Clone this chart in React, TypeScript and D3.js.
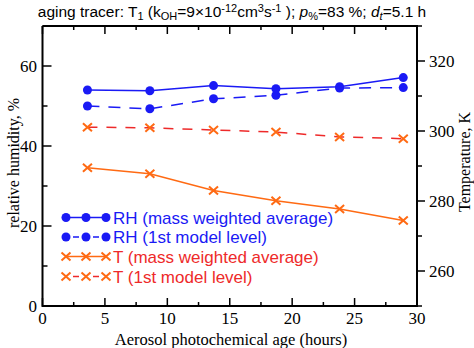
import React from "react";
import * as d3 from "d3";

const ages = [3.6, 8.6, 13.7, 18.7, 23.8, 28.9];
const rhMass = [54.0, 53.8, 55.1, 54.3, 54.8, 57.1];
const rh1st = [50.0, 49.3, 51.8, 52.7, 54.5, 54.6];
const tMass = [289.5, 287.8, 283.0, 280.1, 277.7, 274.4];
const t1st = [301.1, 300.9, 300.3, 299.7, 298.3, 297.8];
const xTicks = [0, 5, 10, 15, 20, 25, 30];
const rhTicks = [0, 20, 40, 60];
const tTicks = [260, 280, 300, 320];
const legendLabels = [
  "RH (mass weighted average)",
  "RH (1st model level)",
  "T (mass weighted average)",
  "T (1st model level)",
];

const BLUE = "#1a1af5";
const ORANGE = "#ff6a13";
const RED = "#ee2a2a";

const W = 474, H = 348;
const L = 42.5, R = 417, T = 26, B = 306;

export default function App() {
  const x = d3.scaleLinear().domain([0, 30]).range([L, R]);
  const yRH = d3.scaleLinear().domain([0, 70]).range([B, T]);
  const yT = d3.scaleLinear().domain([250, 330]).range([B, T]);
  const lineRH = d3.line<number>().x((_, i) => x(ages[i])).y((d) => yRH(d));
  const lineT = d3.line<number>().x((_, i) => x(ages[i])).y((d) => yT(d));

  const serif = "'Liberation Serif', 'Times New Roman', serif";
  const sans = "'Liberation Sans', Arial, sans-serif";

  const xMinor = d3.range(0, 30.01, 2.5);
  const rhMinor = d3.range(0, 70.01, 10);
  const tMinor = d3.range(250, 330.01, 10);

  const cross = (cx: number, cy: number, color: string, key: string | number) => (
    <path key={key} d={`M${cx - 4.5},${cy - 4}L${cx + 4.5},${cy + 4}M${cx - 4.5},${cy + 4}L${cx + 4.5},${cy - 4}`} stroke={color} strokeWidth={2} fill="none" />
  );

  const legY = [217.5, 237, 256.5, 276.5];
  const legX = [66, 86, 106];

  return (
    <svg width={W} height={H} style={{ position: "absolute", left: 0, top: 0 }}>
      <rect width={W} height={H} fill="white" />
      {/* title */}
      <text x={232} y={17} textAnchor="middle" fontFamily={sans} fontSize={15.5} fill="#000">
        aging tracer: T<tspan fontSize={11} dy={3}>1</tspan>
        <tspan dy={-3}> (k</tspan>
        <tspan fontSize={11} dy={3}>OH</tspan>
        <tspan dy={-3}>=9×10</tspan>
        <tspan fontSize={11} dy={-5}>-12</tspan>
        <tspan dy={5}>cm</tspan>
        <tspan fontSize={11} dy={-5}>3</tspan>
        <tspan dy={5}>s</tspan>
        <tspan fontSize={11} dy={-5}>-1</tspan>
        <tspan dy={5}> ); </tspan>
        <tspan fontStyle="italic">p</tspan>
        <tspan fontSize={11} dy={3}>%</tspan>
        <tspan dy={-3}>=83 %; </tspan>
        <tspan fontStyle="italic">d</tspan>
        <tspan fontSize={11} fontStyle="italic" dy={3}>t</tspan>
        <tspan dy={-3}>=5.1 h</tspan>
      </text>

      {/* frame */}
      <path d={`M${L},${T}V${B}H${R}V${T}H${L}`} fill="none" stroke="#000" strokeWidth={2} />

      {/* x ticks bottom & top */}
      {xMinor.map((v, i) => {
        const major = Math.abs(v % 5) < 1e-6;
        const len = major ? 8 : 4;
        return (
          <g key={"xt" + i}>
            <line x1={x(v)} x2={x(v)} y1={B} y2={B - len} stroke="#000" strokeWidth={1.5} />
            <line x1={x(v)} x2={x(v)} y1={T} y2={T + len} stroke="#000" strokeWidth={1.5} />
          </g>
        );
      })}
      {xTicks.map((v) => (
        <text key={"xl" + v} x={x(v)} y={324} textAnchor="middle" fontFamily={serif} fontSize={17}>{v}</text>
      ))}

      {/* left ticks */}
      {rhMinor.map((v, i) => {
        const major = v % 20 === 0;
        return <line key={"lt" + i} x1={L} x2={L + (major ? 9 : 5)} y1={yRH(v)} y2={yRH(v)} stroke="#000" strokeWidth={1.5} />;
      })}
      {rhTicks.map((v) => (
        <text key={"ll" + v} x={37} y={yRH(v) + 6} textAnchor="end" fontFamily={serif} fontSize={17}>{v}</text>
      ))}

      {/* right ticks */}
      {tMinor.map((v, i) => {
        const major = v % 20 === 0;
        return <line key={"rt" + i} x1={R} x2={R + (major ? 8 : 5)} y1={yT(v)} y2={yT(v)} stroke="#000" strokeWidth={1.5} />;
      })}
      {tTicks.map((v) => (
        <text key={"rl" + v} x={429} y={yT(v) + 6} textAnchor="start" fontFamily={serif} fontSize={17}>{v}</text>
      ))}

      {/* axis labels */}
      <text x={231} y={345} textAnchor="middle" fontFamily={serif} fontSize={16.5}>Aerosol photochemical age (hours)</text>
      <text transform={`translate(19,${163}) rotate(-90)`} textAnchor="middle" fontFamily={serif} fontSize={16}>relative humidity, %</text>
      <text transform={`translate(470,${162}) rotate(-90)`} textAnchor="middle" fontFamily={serif} fontSize={16}>Temperature, K</text>

      {/* series */}
      <path d={lineT(t1st) || ""} fill="none" stroke={RED} strokeWidth={1.5} strokeDasharray="10,9" />
      {t1st.map((d, i) => cross(x(ages[i]), yT(d), ORANGE, "c1" + i))}
      <path d={lineT(tMass) || ""} fill="none" stroke={ORANGE} strokeWidth={1.5} />
      {tMass.map((d, i) => cross(x(ages[i]), yT(d), ORANGE, "c2" + i))}
      <path d={lineRH(rh1st) || ""} fill="none" stroke={BLUE} strokeWidth={1.5} strokeDasharray="12,9" />
      {rh1st.map((d, i) => <circle key={"r1" + i} cx={x(ages[i])} cy={yRH(d)} r={4.5} fill={BLUE} />)}
      <path d={lineRH(rhMass) || ""} fill="none" stroke={BLUE} strokeWidth={1.5} />
      {rhMass.map((d, i) => <circle key={"r2" + i} cx={x(ages[i])} cy={yRH(d)} r={4.5} fill={BLUE} />)}

      {/* legend */}
      <g>
        <line x1={legX[0]} x2={legX[2]} y1={legY[0]} y2={legY[0]} stroke={BLUE} strokeWidth={1.5} />
        {legX.map((lx) => <circle key={"lg0" + lx} cx={lx} cy={legY[0]} r={4.5} fill={BLUE} />)}
        <line x1={legX[0]} x2={legX[2]} y1={legY[1]} y2={legY[1]} stroke={BLUE} strokeWidth={1.5} strokeDasharray="0,7,6,7" />
        {legX.map((lx) => <circle key={"lg1" + lx} cx={lx} cy={legY[1]} r={4.5} fill={BLUE} />)}
        <line x1={legX[0]} x2={legX[2]} y1={legY[2]} y2={legY[2]} stroke={ORANGE} strokeWidth={1.5} />
        {legX.map((lx) => cross(lx, legY[2], ORANGE, "lg2" + lx))}
        <line x1={legX[0]} x2={legX[2]} y1={legY[3]} y2={legY[3]} stroke={RED} strokeWidth={1.5} strokeDasharray="0,7,6,7" />
        {legX.map((lx) => cross(lx, legY[3], ORANGE, "lg3" + lx))}
        {legendLabels.map((t, i) => (
          <text key={"lt" + i} x={113} y={legY[i] + 6} fontFamily={sans} fontSize={17} fill={i < 2 ? BLUE : RED}>{t}</text>
        ))}
      </g>
    </svg>
  );
}
